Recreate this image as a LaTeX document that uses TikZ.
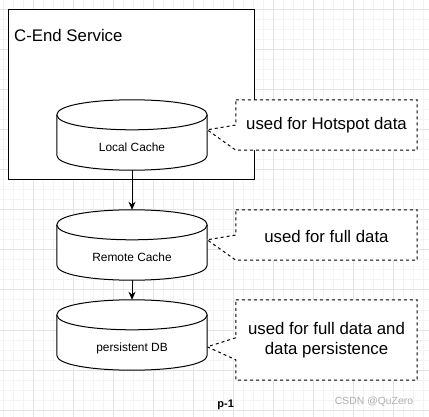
\documentclass[tikz,border=0pt]{standalone}
\usepackage{fontspec}
\setmainfont{Liberation Sans}
\usetikzlibrary{arrows.meta,calc}
\definecolor{gridminor}{RGB}{244,244,244}
\definecolor{gridmajor}{RGB}{228,228,228}
\definecolor{wmark}{RGB}{175,175,175}
\newcommand\drawcyl[1]{%
  \draw[cylline] ([yshift=-15pt]#1.north west) .. controls ([yshift=5pt]#1.north west) and ([yshift=5pt]#1.north east) .. ([yshift=-15pt]#1.north east)
     -- ([yshift=15pt]#1.south east) .. controls ([yshift=-5pt]#1.south east) and ([yshift=-5pt]#1.south west) .. ([yshift=15pt]#1.south west) -- cycle;
  \draw[cylline] ([yshift=-15pt]#1.north west) .. controls ([yshift=-35pt]#1.north west) and ([yshift=-35pt]#1.north east) .. ([yshift=-15pt]#1.north east);
}
\begin{document}
\begin{tikzpicture}[x=1pt,y=-1pt,
  minorline/.style={draw=gridminor,line width=1pt},
  majorline/.style={draw=gridmajor,line width=1pt},
  cylbox/.style={rectangle,inner sep=0pt,minimum width=150pt,minimum height=70pt},
  cylline/.style={draw=black,fill=white,line width=1pt},
  cyltext/.style={font=\fontsize{11.9}{14}\selectfont,inner sep=0pt},
  bigtext/.style={font=\fontsize{16.8}{20}\selectfont,inner sep=0pt},
  calloutbox/.style={rectangle,inner sep=0pt,minimum width=181pt,align=center,font=\fontsize{16.8}{20}\selectfont},
  calloutline/.style={draw=black,fill=white,line width=1pt,dash pattern=on 3pt off 3pt},
  arr/.style={draw=black,line width=1pt,-{Stealth[length=8pt,width=7pt,inset=2.5pt]}}
]
\useasboundingbox (0,0) rectangle (429,417);
\fill[white] (0,0) rectangle (429,417);
% grid
\foreach \gx in {3.33,13.33,...,430} \draw[minorline] (\gx,0) -- (\gx,417);
\foreach \gy in {0,10,...,417} \draw[minorline] (0,\gy) -- (429,\gy);
\foreach \gx in {33.33,73.33,...,430} \draw[majorline] (\gx,0) -- (\gx,417);
\foreach \gy in {10,50,...,417} \draw[majorline] (0,\gy) -- (429,\gy);

% service container
\node[draw=black,fill=white,line width=1pt,rectangle,inner sep=0pt,minimum width=246pt,minimum height=170pt] (svc) at (131,95) {};
\node[bigtext,anchor=base west] (svct) at (14,41.5) {C-End Service};

% cylinders
\node[cylbox] (lc) at (132,135) {};
\node[cylbox] (rc) at (132,245) {};
\node[cylbox] (db) at (132,335) {};
\drawcyl{lc}
\drawcyl{rc}
\drawcyl{db}
\node[cyltext] (lct) at (132,147) {Local Cache};
\node[cyltext] (rct) at (132,257.5) {Remote Cache};
\node[cyltext] (dbt) at (132,348) {persistent DB};

% arrows
\draw[arr] (lc.south) -- (rc.north);
\draw[arr] (rc.south) -- (db.north);

% callouts
\node[calloutbox,minimum height=50pt] (c1) at (326.5,125) {};
\node[calloutbox,minimum height=50pt] (c2) at (326.5,235) {};
\node[calloutbox,minimum height=80pt] (c3) at (326.5,340) {};
\coordinate (t1) at ($(lc.north east)+(0,30)$);
\coordinate (t2) at ($(rc.north east)+(0,30)$);
\coordinate (t3) at ($(db.north east)+(0,47)$);
\draw[calloutline] (c1.north west) -- (c1.north east) -- (c1.south east) -- (c1.south west) -- (t1) -- (c1.west) -- cycle;
\draw[calloutline] (c2.north west) -- (c2.north east) -- (c2.south east) -- (c2.south west) -- (t2) -- (c2.west) -- cycle;
\draw[calloutline] (c3.north west) -- (c3.north east) -- (c3.south east) -- (c3.south west) -- ($(c3.north west)+(0,60)$) -- (t3) -- ($(c3.north west)+(0,38)$) -- cycle;
\node[bigtext] (c1t) at (326.5,125) {used for Hotspot data};
\node[bigtext] (c2t) at (326.5,236) {used for full data};
\node[bigtext,align=center] (c3t) at (326.5,340.5) {used for full data and\\data persistence};

% footer
\node[font=\bfseries\fontsize{11}{13}\selectfont,inner sep=0pt] (pg) at (225.7,405) {p-1};
\node[font=\fontsize{10.4}{12}\selectfont,text=wmark,inner sep=0pt] (wm) at (374,402) {CSDN @QuZero};
\end{tikzpicture}
\end{document}
